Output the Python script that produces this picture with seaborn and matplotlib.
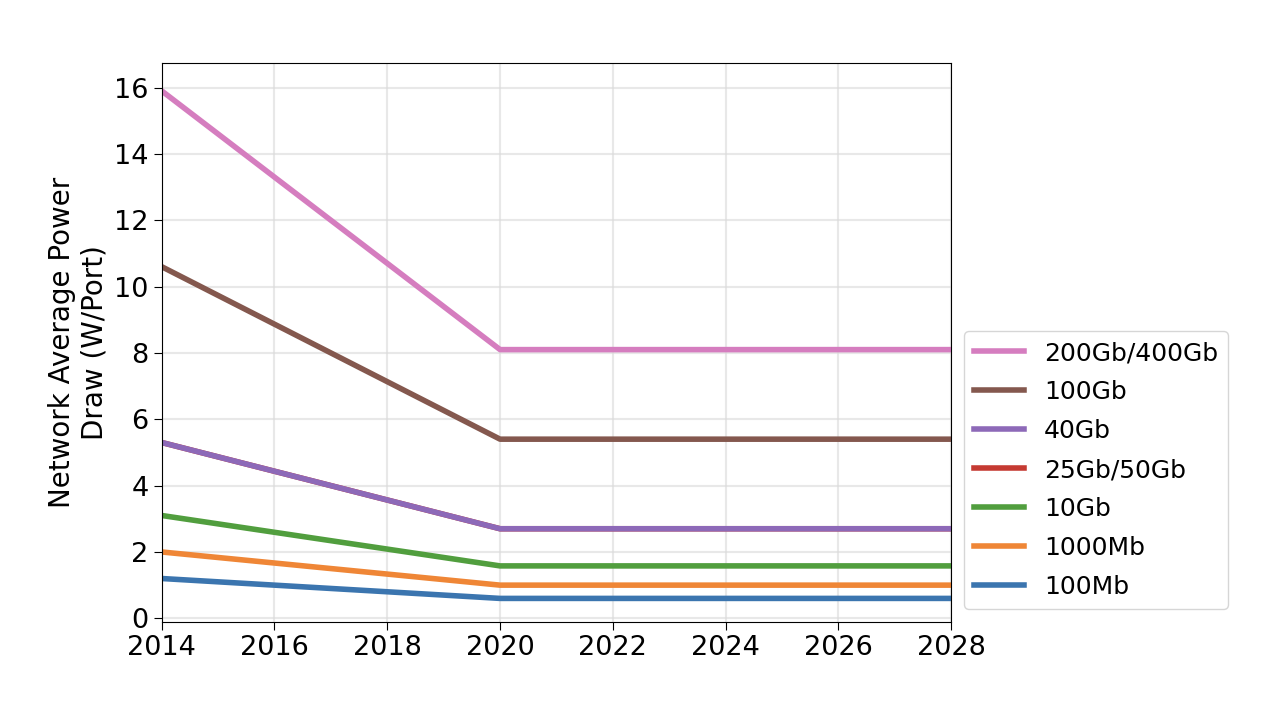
import matplotlib
matplotlib.use('Agg')
import matplotlib.pyplot as plt
import seaborn as sns
import pandas as pd

years = [2014, 2020, 2028]
speeds = ['100Mb', '1000Mb', '10Gb', '25Gb/50Gb', '40Gb', '100Gb', '200Gb/400Gb']
w_100mb = [1.2, 0.6, 0.6]
w_1000mb = [2.0, 1.0, 1.0]
w_10gb = [3.1, 1.58, 1.58]
w_25gb = [5.3, 2.7, 2.7]
w_40gb = [5.3, 2.7, 2.7]
w_100gb = [10.6, 5.4, 5.4]
w_200gb = [15.9, 8.1, 8.1]

colors = ['#3b75af', '#ef8636', '#519e3e', '#c53a32', '#8d69b8', '#84584e', '#d57dbf']

series = [w_100mb, w_1000mb, w_10gb, w_25gb, w_40gb, w_100gb, w_200gb]
rows = []
for name, vals in zip(speeds, series):
    for yr, v in zip(years, vals):
        rows.append({'year': yr, 'watts': v, 'speed': name})
df = pd.DataFrame(rows)

fig = plt.figure(figsize=(12.76, 7.04), dpi=100)
ax = fig.add_axes([0.1267, 0.117, 0.6188, 0.794])

sns.lineplot(data=df, x='year', y='watts', hue='speed', hue_order=speeds,
             palette=colors, linewidth=4, ax=ax)

ax.set_xlim(2014, 2028)
ax.set_ylim(-0.1, 16.75)
ax.set_xticks(range(2014, 2029, 2))
ax.set_yticks(range(0, 17, 2))
ax.tick_params(labelsize=19.5, length=6)
ax.grid(True, color='#d9d9d9', alpha=0.6, linewidth=1.5)
ax.set_axisbelow(True)
ax.set_xlabel('')
ax.set_ylabel('Network Average Power\nDraw (W/Port)', fontsize=20)

handles, labels = ax.get_legend_handles_labels()
ax.legend(handles[::-1], labels[::-1], loc='lower left', bbox_to_anchor=(1, 0),
          fontsize=18, borderaxespad=0.5, labelspacing=0.6, handlelength=2.0)

fig.savefig('out.png', dpi=100)
